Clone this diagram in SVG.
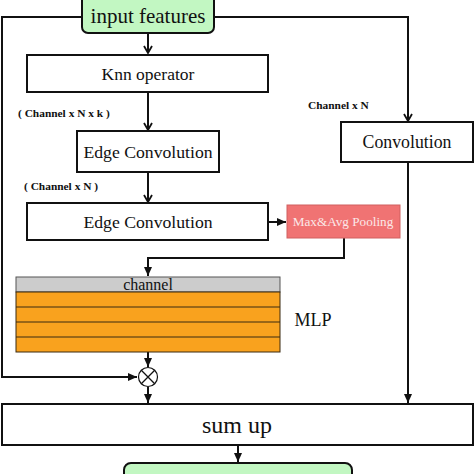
<svg xmlns="http://www.w3.org/2000/svg" width="474" height="474" viewBox="0 0 474 474">
<style>
.box{fill:#fff;stroke:#111;stroke-width:2}
.green{fill:#c2f7c2;stroke:#111;stroke-width:2}
.t{font-family:"Liberation Serif","Times New Roman","DejaVu Serif",serif;fill:#111;text-anchor:middle}
.lbl{font-family:"Liberation Serif","Times New Roman","DejaVu Serif",serif;font-weight:bold;font-size:11.4px;fill:#111}
.ln{fill:none;stroke:#111;stroke-width:2}
.thin{fill:none;stroke:#111;stroke-width:1.3}
</style>
<defs>
<marker id="v" markerWidth="10" markerHeight="10" refX="8" refY="5" orient="auto" markerUnits="userSpaceOnUse"><path d="M1,1 L8,5 L1,9" fill="none" stroke="#111" stroke-width="1.8"/></marker>
<marker id="f" markerWidth="10" markerHeight="10" refX="9" refY="5" orient="auto" markerUnits="userSpaceOnUse"><path d="M0,1 L9,5 L0,9 Z" fill="#111"/></marker>
</defs>
<g id="connectors">
<path class="ln" d="M148,34 V53" marker-end="url(#v)"/>
<path class="ln" d="M148,92 V130" marker-end="url(#v)"/>
<path class="ln" d="M148,172 V202" marker-end="url(#v)"/>
<path class="ln" d="M214,17 H408 V121" marker-end="url(#v)"/>
<path class="ln" d="M82,17 H2 V377 H137" marker-end="url(#f)"/>
<path class="ln" d="M268,222 H286" marker-end="url(#f)"/>
<path class="ln" d="M344,238 V258 H148 V276" marker-end="url(#f)"/>
<path class="ln" d="M148,352 V367" marker-end="url(#f)"/>
<path class="ln" d="M148,387 V403" marker-end="url(#f)"/>
<path class="ln" d="M408,162 V403" marker-end="url(#f)"/>
<path class="ln" d="M238,445 V462" marker-end="url(#f)"/>
</g>
<g id="input"><rect class="green" x="82" y="-8" width="132" height="41" rx="6"/><text class="t" x="148" y="23" font-size="21">input features</text></g>
<g id="knn"><rect class="box" x="27" y="55" width="241" height="37"/><text class="t" x="148" y="80" font-size="17.5">Knn operator</text></g>
<text class="lbl" x="18" y="117">( Channel x N x k )</text>
<g id="edge1"><rect class="box" x="77" y="131" width="142" height="41"/><text class="t" x="148" y="158" font-size="17.7">Edge Convolution</text></g>
<text class="lbl" x="24" y="190">( Channel x N )</text>
<text class="lbl" x="308" y="109">Channel x N</text>
<g id="conv"><rect class="box" x="341" y="122" width="132" height="40"/><text class="t" x="407" y="148" font-size="17.8">Convolution</text></g>
<g id="edge2"><rect class="box" x="27" y="203" width="241" height="37"/><text class="t" x="148" y="228" font-size="17.7">Edge Convolution</text></g>
<g id="pool"><rect x="287" y="205" width="113" height="33" fill="#f07373" stroke="#d06060" stroke-width="1"/><text class="t" x="343" y="226" font-size="13.2" style="fill:#fbe8e8">Max&amp;Avg Pooling</text></g>
<g id="mlp">
<rect x="16" y="277" width="264" height="15" fill="#cccccc" stroke="#555" stroke-width="1"/>
<text class="t" x="148" y="290" font-size="16">channel</text>
<rect x="16" y="292" width="264" height="60" fill="#f9a21e" stroke="#3a2a10" stroke-width="1"/>
<path d="M16,307 H280 M16,322 H280 M16,337 H280" stroke="#3a2a10" stroke-width="1"/>
<text class="t" x="313" y="326" font-size="18">MLP</text>
</g>
<g id="mult"><circle cx="148" cy="377" r="9.5" fill="#fff" stroke="#111" stroke-width="1.2"/><path class="thin" d="M141.3,370.3 L154.7,383.7 M154.7,370.3 L141.3,383.7"/></g>
<g id="sum"><rect class="box" x="2" y="404" width="471" height="41"/><text class="t" x="237" y="433" font-size="24">sum up</text></g>
<g id="output"><rect class="green" x="124" y="463" width="228" height="30" rx="7"/></g>
</svg>
